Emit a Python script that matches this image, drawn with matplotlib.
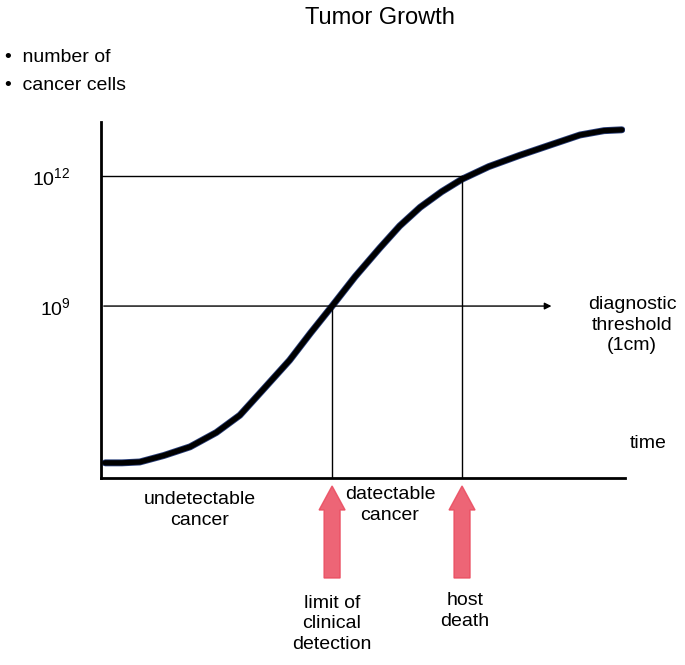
import matplotlib
matplotlib.use("Agg")
import matplotlib.pyplot as plt
from matplotlib.patches import FancyArrow

plt.rcParams['font.family'] = ['Liberation Sans', 'DejaVu Sans']
plt.rcParams['mathtext.fontset'] = 'custom'
plt.rcParams['mathtext.rm'] = 'Liberation Sans'

# tumour growth curve, time (arbitrary 0..100) vs log10(number of cells)
time = [0.8, 4, 7.4, 12, 17, 22, 26.5, 31, 36, 40, 44.1, 48.5, 53.2, 57, 60.9, 65, 68.9, 74, 79.9, 86, 91.4, 96, 99.4]
log_cells = [5.38, 5.38, 5.40, 5.55, 5.75, 6.08, 6.48, 7.08, 7.75, 8.38, 9.0, 9.68, 10.34, 10.85, 11.28, 11.64, 11.93, 12.22, 12.48, 12.73, 12.95, 13.05, 13.07]
ytick_vals = [9, 12]
ytick_labels = ["$\\mathrm{10^{9}}$", "$\\mathrm{10^{12}}$"]
t_detect, t_death = 44.1, 68.9

fig = plt.figure(figsize=(6.85, 6.65), dpi=100)
ax = fig.add_axes([101/685, (665-478)/665, 524/685, 356/665])
ax.set_xlim(0, 100)
ax.set_ylim(5.03, 13.25)
for s in ["top", "right"]:
    ax.spines[s].set_visible(False)
ax.spines["left"].set_linewidth(2)
ax.spines["bottom"].set_linewidth(2)
ax.set_xticks([])
ax.set_yticks(ytick_vals)
ax.set_yticklabels(ytick_labels, fontsize=14)
ax.tick_params(axis="y", length=0, pad=22)

ax.plot(time, log_cells, color="#2a3f7a", lw=5, solid_capstyle="round", solid_joinstyle="round")
ax.plot(time, log_cells, color="black", lw=3.8, solid_capstyle="round", solid_joinstyle="round")

ax.plot([0, t_death], [12, 12], color="black", lw=1)
ax.plot([t_death, t_death], [5.03, 12], color="black", lw=1)
ax.plot([t_detect, t_detect], [5.03, 9], color="black", lw=1)
ax.annotate("", xy=(86.5, 9), xytext=(0, 9),
            arrowprops=dict(arrowstyle="-|>", color="black", lw=1), annotation_clip=False)

fig.text(380/685, 1-18/665, "Tumor Growth", ha="center", va="center", fontsize=17)
fig.text(5/685, 1-58/665, "•  number of", ha="left", va="center", fontsize=14)
fig.text(5/685, 1-86/665, "•  cancer cells", ha="left", va="center", fontsize=14)
fig.text(632/685, 1-325/665, "diagnostic\nthreshold\n(1cm)", ha="center", va="center",
         fontsize=14, linespacing=1.3)
fig.text(648/685, 1-444/665, "time", ha="center", va="center", fontsize=14)
fig.text(200/685, 1-510/665, "undetectable\ncancer", ha="center", va="center", fontsize=14, linespacing=1.25)
fig.text(390/685, 1-505/665, "datectable\ncancer", ha="center", va="center", fontsize=14, linespacing=1.25)
fig.text(332/685, 1-624/665, "limit of\nclinical\ndetection", ha="center", va="center", fontsize=14, linespacing=1.3)
fig.text(465/685, 1-611/665, "host\ndeath", ha="center", va="center", fontsize=14, linespacing=1.3)

# red upward arrows below the axis
for t in [t_detect, t_death]:
    xf = (101 + t * 5.24) / 685
    fig.patches.append(FancyArrow(xf, 1-578/665, 0, 92/665, width=16/685, head_width=26/685,
                                  head_length=24/665, length_includes_head=True,
                                  color="#ea4a5e", alpha=0.85, transform=fig.transFigure))

fig.savefig("out.png", dpi=100)
